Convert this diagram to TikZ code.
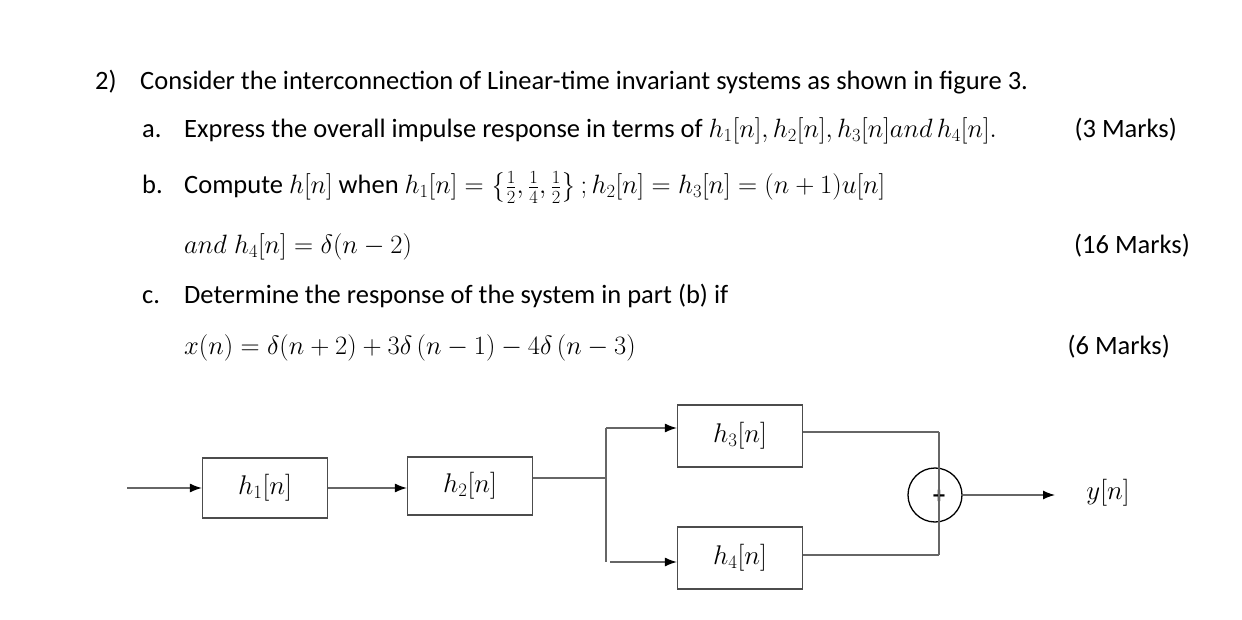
\RequirePackage{fix-cm}
\documentclass[tikz,border=0pt]{standalone}
\usepackage{amsmath}
\usepackage{fontspec}
\setmainfont{Carlito}
\usetikzlibrary{arrows.meta,calc}
\begin{document}
\begin{tikzpicture}[x=1pt,y=-1pt,
  txt/.style={anchor=base west,inner sep=0,font=\fontsize{26.5}{30}\selectfont},
  mk/.style={anchor=base east,inner sep=0,font=\fontsize{26.5}{30}\selectfont},
  blk/.style={draw=black!70,line width=1.2pt,minimum width=125pt,minimum height=60pt,inner sep=0,font=\fontsize{27}{30}\selectfont},
  wire/.style={draw=black!60,line width=1.3pt},
  arr/.style={wire,-{Latex[length=12pt,width=9pt,black]}}]
\useasboundingbox (0,0) rectangle (1242,620);
\node[txt] (l0a) at (95,90) {2)};
\node[txt] (l0) at (140,90) {Consider the interconnection of Linear-time invariant systems as shown in figure 3.};
\node[txt] (la) at (142,138) {a.};
\node[txt] (la2) at (184,138) {Express the overall impulse response in terms of $h_1[n],h_2[n],h_3[n]and\, h_4[n].$};
\node[mk] (ma) at (1177,138) {(3 Marks)};
\node[txt] (lb) at (142,194) {b.};
\node[txt] (lb2) at (184,194) {Compute $h[n]$ when $h_1[n]=\left\{\tfrac12,\tfrac14,\tfrac12\right\};h_2[n]=h_3[n]=(n+1)u[n]$};
\node[txt] (lb3) at (184,254) {$and\; h_4[n]=\delta(n-2)$};
\node[mk] (mb) at (1190,254) {(16 Marks)};
\node[txt] (lc) at (142,304) {c.};
\node[txt] (lc2) at (184,304) {Determine the response of the system in part (b) if};
\node[txt] (lc3) at (184,354) {$x(n)=\delta(n+2)+3\delta\,(n-1)-4\delta\,(n-3)$};
\node[mk] (mc) at (1170,354) {(6 Marks)};
% diagram
\node[blk] (h1) at (265,488) {$h_1[n]$};
\node[blk,minimum height=58pt] (h2) at (470,486) {$h_2[n]$};
\node[blk,minimum height=62pt] (h3) at (740,436) {$h_3[n]$};
\node[blk,minimum height=62pt] (h4) at (740,558) {$h_4[n]$};
\node[draw,line width=1.3pt,circle,minimum size=54pt,inner sep=0] (s) at (935,495) {};
\node[font=\bfseries\fontsize{24}{24}\selectfont,inner sep=0] (plus) at (939,497) {+};
\node[font=\fontsize{27}{30}\selectfont] (y) at (1108,493) {$y[n]$};
\coordinate (in) at (127,488);
\coordinate (sp) at (606,478);
\coordinate (jt) at (939,432);
\coordinate (jb) at (939,555);
\draw[arr] (in) -- (h1.west);
\draw[arr] (h1.east) -- (h2.west|-h1.east);
\draw[wire] (h2.east|-sp) -- (sp);
\draw[wire] (606,428) -- (606,562);
\draw[arr] (606,428) -- (h3.west|-0,428);
\draw[arr] (610,562) -- (h4.west|-0,562);
\draw[wire] (h3.east|-jt) -- (jt);
\draw[wire] (h4.east|-jb) -- (jb);
\draw[wire] (jt) -- (jb);
\draw[arr] (s.east) -- (1055,495);
\end{tikzpicture}
\end{document}
